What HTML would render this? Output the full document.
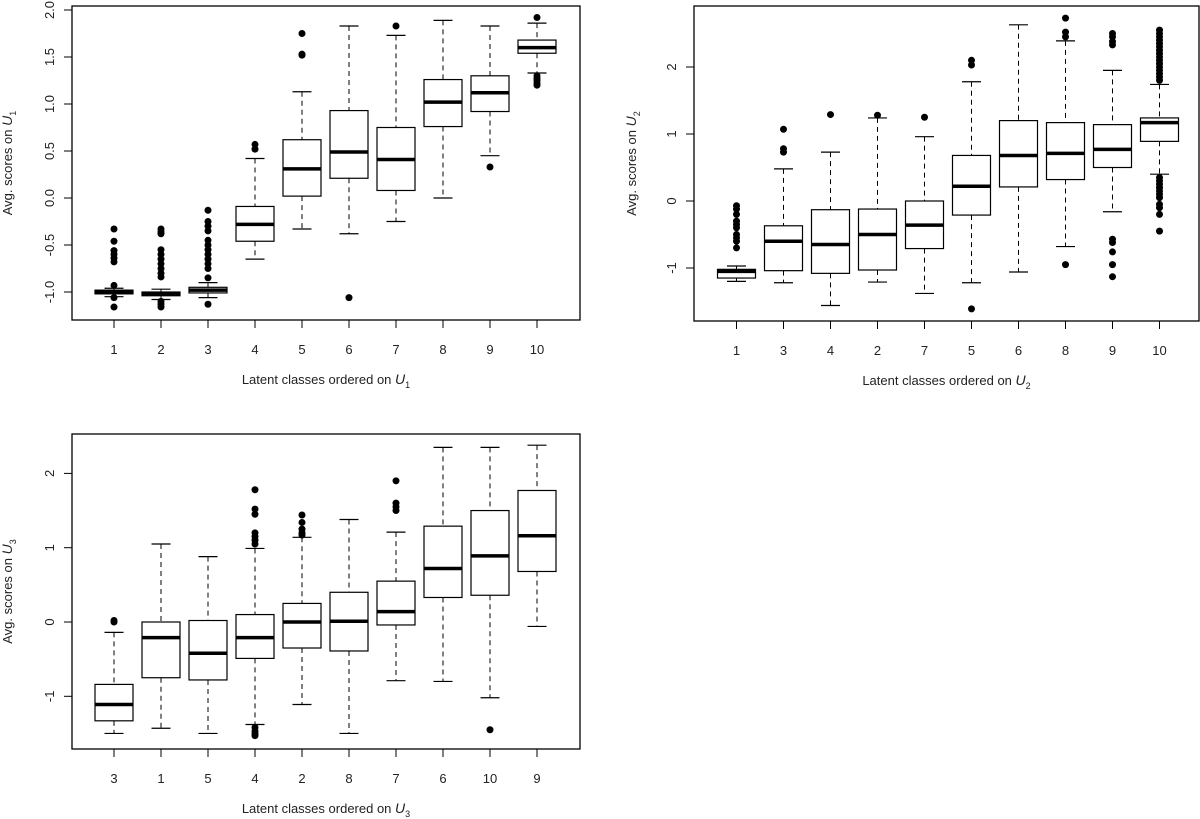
<!DOCTYPE html>
<html><head><meta charset="utf-8"><style>
body{margin:0;background:#fff;}
svg{display:block;font-family:"Liberation Sans",Arial,sans-serif;}
</style></head><body>
<svg id="chart" width="1200" height="819" viewBox="0 0 1200 819"></svg>
<script>
// ---- Panel 1 data (U1) ----
const cats1 = ["1","2","3","4","5","6","7","8","9","10"];
const q1_1 = [-1.02,-1.04,-1.01,-0.46,0.02,0.21,0.08,0.76,0.92,1.54];
const med1 = [-1.0,-1.02,-0.98,-0.28,0.31,0.49,0.41,1.02,1.12,1.6];
const q3_1 = [-0.98,-1.0,-0.95,-0.09,0.62,0.93,0.75,1.26,1.3,1.68];
const lo1 = [-1.05,-1.08,-1.06,-0.65,-0.33,-0.38,-0.25,0.0,0.45,1.33];
const hi1 = [-0.96,-0.97,-0.9,0.42,1.13,1.83,1.73,1.89,1.83,1.86];
const out1 = [
 [-0.33,-0.46,-0.56,-0.6,-0.64,-0.68,-0.93,-1.06,-1.16],
 [-0.33,-0.36,-0.38,-0.55,-0.6,-0.65,-0.7,-0.75,-0.8,-0.84,-1.1,-1.13,-1.16],
 [-0.13,-0.25,-0.3,-0.35,-0.45,-0.5,-0.55,-0.6,-0.65,-0.7,-0.75,-0.85,-1.13],
 [0.52,0.57],[1.52,1.53,1.75],[-1.06],[1.83],[],[0.33],[1.92,1.3,1.27,1.25,1.22,1.2]];
const ticks1 = [-1,-0.5,0,0.5,1,1.5,2];
const tickLabels1 = ["-1.0","-0.5","0.0","0.5","1.0","1.5","2.0"];
// ---- Panel 2 data (U2) ----
const cats2 = ["1","3","4","2","7","5","6","8","9","10"];
const q1_2 = [-1.15,-1.04,-1.08,-1.03,-0.71,-0.21,0.21,0.32,0.5,0.89];
const med2 = [-1.05,-0.6,-0.65,-0.5,-0.36,0.22,0.68,0.71,0.77,1.17];
const q3_2 = [-1.02,-0.37,-0.13,-0.12,0.0,0.68,1.2,1.17,1.14,1.24];
const lo2 = [-1.2,-1.22,-1.56,-1.21,-1.38,-1.22,-1.06,-0.68,-0.16,0.4];
const hi2 = [-0.97,0.48,0.73,1.24,0.96,1.78,2.63,2.39,1.95,1.74];
const out2 = [
 [-0.07,-0.12,-0.2,-0.3,-0.35,-0.4,-0.5,-0.55,-0.6,-0.7],
 [0.73,0.78,1.07],[1.29],[1.28],[1.25],[2.03,2.1,-1.61],[],
 [2.45,2.52,2.73,-0.95],
 [2.33,2.38,2.45,2.5,-0.57,-0.62,-0.76,-0.95,-1.13],
 [1.8,1.85,1.9,1.95,2.0,2.05,2.1,2.15,2.2,2.25,2.3,2.35,2.4,2.45,2.5,2.55,0.35,0.3,0.25,0.2,0.15,0.1,0.05,-0.05,-0.1,-0.2,-0.45]];
const ticks2 = [-1,0,1,2];
const tickLabels2 = ["-1","0","1","2"];
// ---- Panel 3 data (U3) ----
const cats3 = ["3","1","5","4","2","8","7","6","10","9"];
const q1_3 = [-1.33,-0.75,-0.78,-0.49,-0.35,-0.39,-0.04,0.33,0.36,0.68];
const med3 = [-1.11,-0.21,-0.42,-0.21,0.0,0.01,0.14,0.72,0.89,1.16];
const q3_3 = [-0.84,0.0,0.02,0.1,0.25,0.4,0.55,1.29,1.5,1.77];
const lo3 = [-1.5,-1.43,-1.5,-1.38,-1.11,-1.5,-0.79,-0.8,-1.02,-0.06];
const hi3 = [-0.14,1.05,0.88,0.99,1.14,1.38,1.21,2.35,2.35,2.38];
const out3 = [[0.0,0.02],[],[],
 [1.05,1.1,1.15,1.2,1.45,1.52,1.78,-1.42,-1.47,-1.5,-1.53],
 [1.17,1.2,1.25,1.34,1.44],[],[1.5,1.55,1.6,1.9],[],[-1.45],[]];
const ticks3 = [-1,0,1,2];
const tickLabels3 = ["-1","0","1","2"];

const NS="http://www.w3.org/2000/svg";
const svg=document.getElementById('chart');
function mk(tag,attrs,parent){const e=document.createElementNS(NS,tag);for(const k in attrs)e.setAttribute(k,attrs[k]);(parent||svg).appendChild(e);return e;}

function panel(p){
  const g=mk('g',{});
  
  
  const y=v=>p.y0-(v-p.v0)*p.ppu;
  const x=i=>p.x1+i*p.dx;
  const frame=mk('rect',{x:p.L,y:p.T,width:p.R-p.L,height:p.B-p.T,fill:'none',stroke:'#000','stroke-width':1.3},g);
  
  
  p.ticks.forEach((t,i)=>{
    mk('line',{x1:p.L,x2:p.L-8,y1:y(t),y2:y(t),stroke:'#000','stroke-width':1},g);
    const tx=mk('text',{x:p.L-18,y:y(t),'font-size':13,fill:'#222','text-anchor':'middle',transform:`rotate(-90 ${p.L-18} ${y(t)})`},g);
    tx.textContent=p.tickLabels[i];
    
    
  });
  p.cats.forEach((c,i)=>{
    mk('line',{x1:x(i),x2:x(i),y1:p.B,y2:p.B+8,stroke:'#000','stroke-width':1},g);
    const tx=mk('text',{x:x(i),y:p.B+34,'font-size':13,fill:'#222','text-anchor':'middle'},g);
    tx.textContent=c;
    
    
  });
  const bw=38,cw=19;
  p.cats.forEach((c,i)=>{
    const bg=mk('g',{},g);
    
    
    const cx=x(i);
    mk('line',{x1:cx,x2:cx,y1:y(p.hi[i]),y2:y(p.q3[i]),stroke:'#000','stroke-width':1,'stroke-dasharray':'5,4'},bg);
    mk('line',{x1:cx,x2:cx,y1:y(p.q1[i]),y2:y(p.lo[i]),stroke:'#000','stroke-width':1,'stroke-dasharray':'5,4'},bg);
    mk('line',{x1:cx-cw/2,x2:cx+cw/2,y1:y(p.hi[i]),y2:y(p.hi[i]),stroke:'#000','stroke-width':1.2},bg);
    mk('line',{x1:cx-cw/2,x2:cx+cw/2,y1:y(p.lo[i]),y2:y(p.lo[i]),stroke:'#000','stroke-width':1.2},bg);
    mk('rect',{x:cx-bw/2,y:y(p.q3[i]),width:bw,height:Math.max(1,y(p.q1[i])-y(p.q3[i])),fill:'#fff',stroke:'#000','stroke-width':1.2},bg);
    mk('line',{x1:cx-bw/2,x2:cx+bw/2,y1:y(p.med[i]),y2:y(p.med[i]),stroke:'#000','stroke-width':3.5},bg);
    p.out[i].forEach(v=>{
      const d=mk('circle',{cx:cx,cy:y(v),r:3.5,fill:'#000'},bg);
      
      
    });
  });
  const xt=mk('text',{x:(p.L+p.R)/2,y:p.B+64,'font-size':13,fill:'#222','text-anchor':'middle'},g);
  xt.innerHTML=`Latent classes ordered on  <tspan font-style="italic" font-size="14">U</tspan><tspan font-size="9" dy="4">${p.sub}</tspan>`;
  
  
  const ty=(p.T+p.B)/2, tx0=p.L-p.ytOff;
  const yt=mk('text',{x:tx0,y:ty,'font-size':13,fill:'#222','text-anchor':'middle',transform:`rotate(-90 ${tx0} ${ty})`},g);
  yt.innerHTML=`Avg. scores on <tspan font-style="italic" font-size="14">U</tspan><tspan font-size="9" dy="4">${p.sub}</tspan>`;
  
  
}

panel({name:'panel-u1',L:72,R:580,T:6,B:320,x1:114,dx:47,y0:198,v0:0,ppu:94,ytOff:60,
  cats:cats1,q1:q1_1,med:med1,q3:q3_1,lo:lo1,hi:hi1,out:out1,ticks:ticks1,tickLabels:tickLabels1,sub:'1'});
panel({name:'panel-u2',L:694,R:1199,T:6,B:321,x1:736.5,dx:47,y0:201,v0:0,ppu:67,ytOff:58,
  cats:cats2,q1:q1_2,med:med2,q3:q3_2,lo:lo2,hi:hi2,out:out2,ticks:ticks2,tickLabels:tickLabels2,sub:'2'});
panel({name:'panel-u3',L:72,R:580,T:434,B:749,x1:114,dx:47,y0:622,v0:0,ppu:74.3,ytOff:60,
  cats:cats3,q1:q1_3,med:med3,q3:q3_3,lo:lo3,hi:hi3,out:out3,ticks:ticks3,tickLabels:tickLabels3,sub:'3'});
</script>
</body></html>
